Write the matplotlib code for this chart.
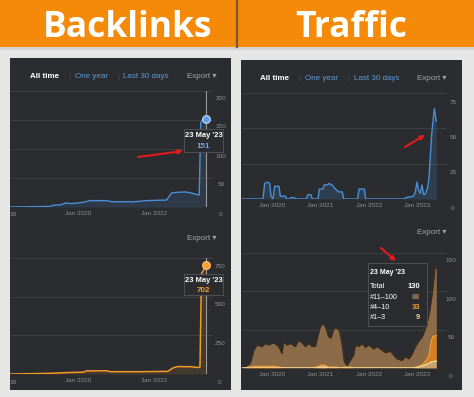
import numpy as np
import matplotlib
matplotlib.use("Agg")
import matplotlib.pyplot as plt
from matplotlib.patches import Rectangle

plt.rcParams['font.family'] = ['Liberation Sans', 'DejaVu Sans']

# ---------------- data ----------------
headers = ["Backlinks", "Traffic"]
range_buttons = ["All time", "One year", "Last 30 days"]
export_label = "Export \u25BE"

# Backlinks - referring domains (blue line)
rd_dates = [2018.21, 2019.26, 2019.35, 2019.57, 2019.66, 2019.83, 2020.14, 2020.32,
            2020.75, 2020.89, 2021.46, 2021.81, 2022.33, 2022.46, 2022.55, 2022.82,
            2022.99, 2023.14, 2023.19, 2023.23, 2023.30, 2023.38]
rd_values = [0, 1, 3, 4, 7, 6, 8, 11, 11, 9, 9, 11, 12, 24, 25, 26, 24, 21, 21, 145, 152, 151]
rd_ticks = [0, 50, 100, 150, 200]

# Backlinks - total backlinks (orange line)
bl_dates = [2018.21, 2019.24, 2019.69, 2020.15, 2020.22, 2020.76, 2020.84, 2021.64,
            2022.36, 2022.49, 2022.62, 2022.98, 2023.16, 2023.21, 2023.25, 2023.38]
bl_values = [0, 4, 9, 12, 20, 21, 15, 15, 17, 38, 48, 47, 42, 45, 650, 702]
bl_ticks = [0, 250, 500, 750]

left_xtick_dates = [2020.0, 2022.0]
left_xtick_labels = ["Jan 2020", "Jan 2022"]
left_cut_label_date = 2018.0
left_cut_label = "18"          # visible tail of "Jan 2018", cut by the panel edge

# Traffic - organic traffic (blue)
tr_dates = [2019.379, 2019.814, 2019.848, 2019.910, 2019.952, 2019.979, 2020.021, 2020.055,
            2020.145, 2020.172, 2020.276, 2020.310, 2020.366, 2020.393, 2020.462, 2020.490,
            2020.710, 2020.738, 2020.807, 2020.834, 2020.952, 2020.979, 2021.055, 2021.083,
            2021.152, 2021.179, 2021.241, 2021.290, 2021.345, 2021.386, 2021.455, 2021.483,
            2021.772, 2021.800, 2021.910, 2021.938, 2022.724, 2022.779, 2022.931, 2022.966,
            2023.000, 2023.034, 2023.069, 2023.103, 2023.138, 2023.179, 2023.221, 2023.248,
            2023.276, 2023.303, 2023.331, 2023.359, 2023.386, 2023.400]
tr_values = [0, 0, 11, 12, 11, 2, 0, 9,
             9, 2, 2, 0, 0, 1, 1, 0,
             0, 3, 3, 0, 0, 7, 7, 10,
             10, 11, 10, 8, 6, 5, 5, 0,
             0, 7, 7, 0, 0, 1, 2, 5,
             12, 6, 4, 10, 3, 4, 8, 15,
             30, 45, 55, 64, 58, 55]
tr_ticks = [0, 25, 50, 75]

# Traffic - organic keywords by position
kw_dates = [2019.379, 2019.448, 2019.552, 2019.621, 2019.690, 2019.793, 2019.862, 2019.931,
            2020.034, 2020.138, 2020.207, 2020.241, 2020.310, 2020.379, 2020.483, 2020.552,
            2020.621, 2020.690, 2020.759, 2020.828, 2020.897, 2020.931, 2021.000, 2021.055,
            2021.103, 2021.172, 2021.220, 2021.276, 2021.345, 2021.400, 2021.448, 2021.497,
            2021.552, 2021.621, 2021.690, 2021.724, 2021.793, 2021.862, 2021.931, 2022.000,
            2022.103, 2022.172, 2022.241, 2022.345, 2022.448, 2022.586, 2022.690, 2022.759,
            2022.828, 2022.897, 2022.966, 2023.034, 2023.100, 2023.138, 2023.207, 2023.250,
            2023.276, 2023.310, 2023.331, 2023.379, 2023.400]
kw_total = [0, 2, 6, 23, 30, 28, 32, 30,
            33, 28, 19, 34, 30, 32, 28, 36,
            33, 28, 32, 28, 28, 37, 54, 58,
            54, 41, 39, 51, 52, 48, 32, 8,
            3, 10, 17, 30, 28, 32, 27, 30,
            25, 28, 25, 20, 22, 12, 10, 15,
            12, 18, 28, 35, 40, 45, 58, 70,
            80, 95, 105, 135, 130]
kw_4_10 = [0, 0, 1, 2, 2, 2, 2, 2,
           2, 1, 0, 0, 0, 0, 0, 0,
           0, 0, 0, 0, 1, 1, 2, 3,
           2, 1, 1, 1, 1, 0, 0, 1,
           1, 1, 0, 0, 0, 0, 0, 0,
           0, 0, 0, 0, 0, 0, 0, 0,
           0, 0, 1, 1, 2, 3, 6, 10,
           20, 30, 33, 33, 33]
kw_1_3 = [0, 0, 0, 0, 0, 0, 0, 0,
          0, 0, 0, 0, 0, 0, 0, 0,
          0, 0, 0, 0, 0, 0, 1, 1,
          1, 0, 0, 0, 0, 0, 0, 0,
          0, 0, 0, 0, 0, 0, 0, 0,
          0, 0, 0, 0, 0, 0, 0, 0,
          0, 0, 0, 1, 2, 3, 5, 6,
          7, 8, 8, 9, 9]
kw_ticks = [0, 50, 100, 150]

right_xtick_dates = [2020.0, 2021.0, 2022.0, 2023.0]
right_xtick_labels = ["Jan 2020", "Jan 2021", "Jan 2022", "Jan 2023"]

tip_date = 2023.38
tip_label = "23 May '23"
rd_tip = 151
bl_tip = 702
kw_tip_names = ["Total", "#11\u2013100", "#4\u201310", "#1\u20133"]
kw_tip_values = [130, 88, 33, 9]

# ---------------- style ----------------
W, H = 474, 397
ORANGE_HDR = '#f48a08'
GRAYBG = '#e6e6e6'
PANEL = '#2b2c2f'
GRID = '#3f4044'
TICKC = '#8f8f8f'
BLUE = '#4a8fd8'
ORANGE = '#f59a23'
LINKBLUE = '#5d9bd8'
TAN = '#8c6b49'
KW410 = '#d7801f'
KW13 = '#f2dcaa'

fig = plt.figure(figsize=(W / 100, H / 100), dpi=100)
fig.patch.set_facecolor(GRAYBG)

bg = fig.add_axes([0, 0, 1, 1], zorder=0)
bg.set_xlim(0, W)
bg.set_ylim(H, 0)
bg.axis('off')

bg.add_patch(Rectangle((0, 0), W, 47, color=ORANGE_HDR, lw=0))
bg.add_patch(Rectangle((0, 47), W, 3, color='#d4d4d4', lw=0))
bg.plot([237, 237], [0, 47], color='#7a5532', lw=1.6)
bg.add_patch(Rectangle((10, 58), 221, 332, color=PANEL, lw=0))
bg.add_patch(Rectangle((241, 60), 221, 330, color=PANEL, lw=0))

hdr_font = dict(family=['Open Sans', 'DejaVu Sans'], fontweight='bold', color='white',
                fontsize=25.5, ha='center', va='baseline')
bg.text(128, 37, headers[0], **hdr_font)
bg.text(351, 37, headers[1], **hdr_font)


def controls(xs, y):
    bg.text(xs[0], y, range_buttons[0], color='white', fontweight='bold', fontsize=5.8,
            ha='center', va='center')
    bg.text(xs[1], y, range_buttons[1], color=LINKBLUE, fontsize=5.8, ha='center', va='center')
    bg.text(xs[2], y, range_buttons[2], color=LINKBLUE, fontsize=5.8, ha='center', va='center')
    bg.text((xs[0] + xs[1]) / 2 + 1, y, '|', color='#4a4b4e', fontsize=6, ha='center', va='center')
    bg.text((xs[1] + xs[2]) / 2 - 1, y, '|', color='#4a4b4e', fontsize=6, ha='center', va='center')
    bg.text(xs[3], y, export_label, color='#a5a5a5', fontsize=5.8, ha='center', va='center')


controls([45, 92, 146, 202], 77)
controls([275, 322, 377, 432], 78)
bg.text(202, 239, export_label, color='#a5a5a5', fontsize=5.8, ha='center', va='center')
bg.text(432, 233, export_label, color='#a5a5a5', fontsize=5.8, ha='center', va='center')


def add_ax(x0, y0, x1, y1):
    ax = fig.add_axes([x0 / W, 1 - y1 / H, (x1 - x0) / W, (y1 - y0) / H], zorder=2)
    ax.set_facecolor('none')
    for s in ax.spines.values():
        s.set_visible(False)
    return ax


def style(ax, yticks, xd, xl, dx, dy):
    ax.set_ylim(0, yticks[-1])
    ax.set_yticks(yticks)
    ax.grid(axis='y', color=GRID, lw=0.7)
    ax.set_axisbelow(True)
    ax.tick_params(axis='y', length=0, labelleft=False, labelright=False)
    ax.set_xticks(xd, xl)
    ax.tick_params(axis='x', length=0, pad=3.2, labelsize=4.6, labelcolor=TICKC)
    for v in yticks:
        ax.annotate(str(v), xy=(1, v), xycoords=('axes fraction', 'data'),
                    xytext=(dx, -dy), textcoords='offset pixels', ha='center', va='center',
                    fontsize=4.6, color=TICKC, annotation_clip=False)


def cut_label(ax, dy):
    ax.annotate(left_cut_label, xy=(left_cut_label_date, 0), xycoords='data',
                xytext=(11, -dy), textcoords='offset pixels', ha='center', va='center',
                fontsize=4.6, color=TICKC, annotation_clip=False)


# Left panel x-scale: Jan 2020 at px 78, 38 px / year
lx = lambda px: 2020 + (px - 78) / 38.0
# Right panel x-scale: Jan 2020 at px 272, 48.33 px / year
rx = lambda px: 2020 + (px - 272) / 48.33

# --- Backlinks top: referring domains
ax1 = add_ax(0, 91, 213, 207)
ax1.set_xlim(lx(0), lx(213))
style(ax1, rd_ticks, left_xtick_dates, left_xtick_labels, 8, 7)
cut_label(ax1, 7)
ax1.fill_between(rd_dates, rd_values, color=BLUE, alpha=0.15, lw=0)
ax1.plot(rd_dates, rd_values, color=BLUE, lw=1.0)
ax1.axvline(tip_date, color='#9a9a9a', lw=0.8)
ax1.plot([tip_date], [rd_tip], 'o', ms=5.5, mfc='#5d9fe6', mec='#b9d4f2', mew=0.9, clip_on=False)

# --- Backlinks bottom: backlinks
ax2 = add_ax(0, 258, 213, 374)
ax2.set_xlim(lx(0), lx(213))
style(ax2, bl_ticks, left_xtick_dates, left_xtick_labels, 7, 8)
cut_label(ax2, 8)
ax2.fill_between(bl_dates, bl_values, color=ORANGE, alpha=0.12, lw=0)
ax2.plot(bl_dates, bl_values, color=ORANGE, lw=1.1)
ax2.axvline(tip_date, color='#9a9a9a', lw=0.8)
ax2.plot([tip_date], [bl_tip], 'o', ms=5.5, mfc='#f7a030', mec='#fbc070', mew=0.9, clip_on=False)

# --- Traffic top: organic traffic
ax3 = add_ax(242, 93, 447, 199)
ax3.set_xlim(rx(242), rx(447))
style(ax3, tr_ticks, right_xtick_dates, right_xtick_labels, 6, 9)
ax3.fill_between(tr_dates, tr_values, color=BLUE, alpha=0.18, lw=0)
ax3.plot(tr_dates, tr_values, color=BLUE, lw=1.0)

# --- Traffic bottom: organic keywords by position
ax4 = add_ax(242, 253, 447, 368)
ax4.set_xlim(rx(242), rx(447))
style(ax4, kw_ticks, right_xtick_dates, right_xtick_labels, 4, 8)
kt = np.array(kw_total, float)
k13 = np.array(kw_1_3, float)
k410 = k13 + np.array(kw_4_10, float)
ax4.fill_between(kw_dates, k410, kt, color=TAN, lw=0)
ax4.plot(kw_dates, kt, color='#3a2c1e', lw=0.9)
ax4.fill_between(kw_dates, k13, k410, color=KW410, lw=0)
ax4.plot(kw_dates, k410, color='#f5a034', lw=1.0)
ax4.fill_between(kw_dates, 0, k13, color='#c9a46a', lw=0)
ax4.plot(kw_dates, k13, color=KW13, lw=1.0)

# ---------------- overlay: covers, tooltips, arrows ----------------
ov = fig.add_axes([0, 0, 1, 1], zorder=5)
ov.set_xlim(0, W)
ov.set_ylim(H, 0)
ov.axis('off')
ov.set_facecolor('none')
ov.add_patch(Rectangle((0, 52), 10, H - 52, color=GRAYBG, lw=0))


def box(x0, y0, w, h):
    ov.add_patch(Rectangle((x0, y0), w, h, facecolor=PANEL, edgecolor='#57585c', lw=0.6, alpha=0.97))


box(184, 129, 39, 23)
ov.text(203.5, 135.5, tip_label, color='white', fontweight='bold', fontsize=5.4, ha='center', va='center')
ov.text(203.5, 146, str(rd_tip), color='#6aa8ec', fontweight='bold', fontsize=5.8, ha='center', va='center')

box(184, 274, 39, 21)
ov.text(203.5, 280, tip_label, color='white', fontweight='bold', fontsize=5.4, ha='center', va='center')
ov.text(203.5, 290, str(bl_tip), color='#f5a033', fontweight='bold', fontsize=5.8, ha='center', va='center')

box(368, 263, 59, 63)
ov.text(370, 272, tip_label, color='white', fontweight='bold', fontsize=5.0, ha='left', va='center')
tip_colors = ['white', '#a9835c', '#eea031', '#f1d28c']
for i, (nm, val, c) in enumerate(zip(kw_tip_names, kw_tip_values, tip_colors)):
    yy = 287 + i * 10.3
    ov.text(370, yy, nm, color='white', fontsize=5.2, ha='left', va='center')
    ov.text(420, yy, str(val), color=c, fontweight='bold', fontsize=5.4, ha='right', va='center')

arrow = dict(arrowstyle='-|>', color='#e21c1c', lw=1.5, mutation_scale=6, shrinkA=0, shrinkB=0)
ov.annotate('', xy=(183, 151), xytext=(138, 157), arrowprops=arrow)
ov.annotate('', xy=(425, 135), xytext=(405, 147), arrowprops=arrow)
ov.annotate('', xy=(396, 261), xytext=(381, 248), arrowprops=arrow)

fig.savefig('out.png', dpi=100, facecolor=fig.get_facecolor())
